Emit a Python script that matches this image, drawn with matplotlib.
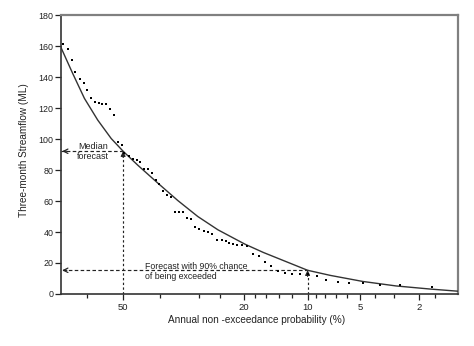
import numpy as np
import matplotlib
matplotlib.use("Agg")
import matplotlib.pyplot as plt
from matplotlib.ticker import NullFormatter
from statistics import NormalDist

plt.rcParams['font.family'] = ['Liberation Sans', 'DejaVu Sans']

# observed streamflow (plotting positions, %) and values (ML)
obs_prob = [66.2, 65.0, 64.0, 63.0, 61.9, 60.8, 59.9, 58.7, 57.7, 56.7,
            55.7, 54.6, 53.6, 52.5, 51.5, 50.4, 49.7, 48.4, 47.2, 46.3,
            45.2, 44.2, 43.1, 42.1, 41.1, 40.1, 39.0, 38.0, 37.0, 35.9,
            34.9, 33.8, 32.8, 31.8, 30.8, 29.8, 28.8, 27.8, 26.9, 25.7,
            24.7, 23.8, 23.1, 22.3, 21.4, 20.4, 19.4, 18.3, 17.2, 16.2,
            15.2, 14.1, 13.1, 12.0, 11.0, 10.0, 8.9, 7.9, 6.8, 5.8,
            4.8, 3.7, 2.7, 1.6]
obs_flow = [161.0, 157.9, 150.9, 143.3, 138.5, 136.3, 131.4, 126.7, 124.0, 123.5,
            122.7, 122.6, 119.3, 115.3, 97.9, 96.0, 90.8, 88.9, 87.1, 86.6,
            85.1, 80.9, 80.9, 78.1, 73.6, 71.2, 66.3, 63.9, 62.6, 52.6,
            52.6, 52.6, 49.3, 48.7, 43.0, 41.9, 40.7, 40.1, 38.7, 35.1,
            34.6, 33.9, 32.6, 32.0, 31.4, 31.4, 31.0, 25.5, 24.4, 20.9,
            18.1, 14.7, 13.6, 12.9, 13.1, 12.9, 11.3, 9.2, 7.9, 7.2,
            6.8, 6.1, 5.9, 4.4]

# fitted distribution curve
fit_prob = [66.7, 63.7, 60.6, 57.0, 53.3, 50.0, 45.9, 40.5, 35.2, 30.2,
            25.5, 19.9, 16.5, 10.0, 7.5, 4.8, 2.9, 1.65, 1.0]
fit_flow = [159.0, 142.3, 126.2, 112.2, 100.3, 92.1, 83.0, 71.6, 60.3, 50.0,
            41.4, 32.2, 26.8, 15.3, 12.0, 8.1, 5.2, 3.2, 1.8]

median_prob, median_flow = 50, 92.1
p90_prob, p90_flow = 10, 15.3

major_ticks = [50, 20, 10, 5, 2]
minor_ticks = [60, 40, 30, 25, 18, 16, 14, 12, 9, 8, 7, 6, 4, 3, 1.5]

nd = NormalDist()


def fwd(p):
    p = np.clip(np.asarray(p, dtype=float), 1e-4, 100 - 1e-4)
    return np.vectorize(nd.inv_cdf, otypes=[float])(p / 100.0)


def inv(z):
    z = np.asarray(z, dtype=float)
    return np.vectorize(nd.cdf, otypes=[float])(z) * 100.0


txt = '#222222'
fig = plt.figure(figsize=(4.74, 3.46), dpi=100)
ax = fig.add_axes([0.1287, 0.1503, 0.8375, 0.8063])
ax.set_xscale('function', functions=(fwd, inv))
xl, xr = 66.7, 1.0
ax.set_xlim(xl, xr)
ax.set_ylim(0, 180)

ax.plot(fit_prob, fit_flow, color='#333333', lw=1.0, zorder=3)
ax.plot(obs_prob, obs_flow, 's', color='black', ms=2.0, mew=0, zorder=4)

dash = (0, (3, 2))
# median forecast
ax.plot([median_prob, xl], [median_flow, median_flow], color=txt, lw=0.85, ls=dash)
ax.plot([median_prob, median_prob], [0, median_flow], color=txt, lw=0.85, ls=(0, (2, 2)))
ax.annotate('', xy=(xl - 0.3, median_flow), xytext=(xl - 1.5, median_flow),
            arrowprops=dict(arrowstyle='->', lw=0.85, color=txt, shrinkA=0, shrinkB=0,
                            mutation_scale=8))
ax.annotate('', xy=(median_prob, median_flow), xytext=(median_prob, median_flow - 4),
            arrowprops=dict(arrowstyle='-|>', lw=0.8, color=txt, shrinkA=0, shrinkB=0,
                            mutation_scale=7))
ax.text(58.3, median_flow, 'Median\nforecast', ha='center', va='center',
        fontsize=6.5, color=txt, linespacing=1.1)

# 90% exceedance forecast
ax.plot([p90_prob, xl], [p90_flow, p90_flow], color=txt, lw=0.85, ls=dash)
ax.plot([p90_prob, p90_prob], [0, p90_flow], color=txt, lw=0.85, ls=(0, (2, 2)))
ax.annotate('', xy=(xl - 0.3, p90_flow), xytext=(xl - 1.5, p90_flow),
            arrowprops=dict(arrowstyle='->', lw=0.85, color=txt, shrinkA=0, shrinkB=0,
                            mutation_scale=8))
ax.annotate('', xy=(p90_prob, p90_flow), xytext=(p90_prob, p90_flow - 4),
            arrowprops=dict(arrowstyle='-|>', lw=0.8, color=txt, shrinkA=0, shrinkB=0,
                            mutation_scale=7))
ax.text(44.0, 14.3, 'Forecast with 90% chance\nof being exceeded', ha='left', va='center',
        fontsize=6.3, color=txt, linespacing=1.1)

ax.set_xticks(major_ticks)
ax.set_xticklabels([str(t) for t in major_ticks])
ax.set_xticks(minor_ticks, minor=True)
ax.xaxis.set_minor_formatter(NullFormatter())
ax.set_yticks(range(0, 181, 20))

ax.tick_params(axis='x', which='major', length=4, width=0.9, pad=2.8, labelsize=6.8,
               colors=txt)
ax.tick_params(axis='x', which='minor', length=3, width=0.9, colors=txt)
ax.tick_params(axis='y', length=4, width=0.9, pad=1.5, labelsize=6.4, colors=txt)

for s in ['left', 'bottom']:
    ax.spines[s].set_color('#333333')
    ax.spines[s].set_linewidth(1.2)
for s in ['top', 'right']:
    ax.spines[s].set_color('#808080')
    ax.spines[s].set_linewidth(1.6)

ax.set_xlabel('Annual non -exceedance probability (%)', fontsize=7.2, color=txt)
ax.set_ylabel('Three-month Streamflow (ML)', fontsize=7.2, color=txt)
ax.xaxis.set_label_coords(0.492, -0.074)
ax.yaxis.set_label_coords(-0.0795, 0.516)

fig.savefig('out.png', dpi=100)
